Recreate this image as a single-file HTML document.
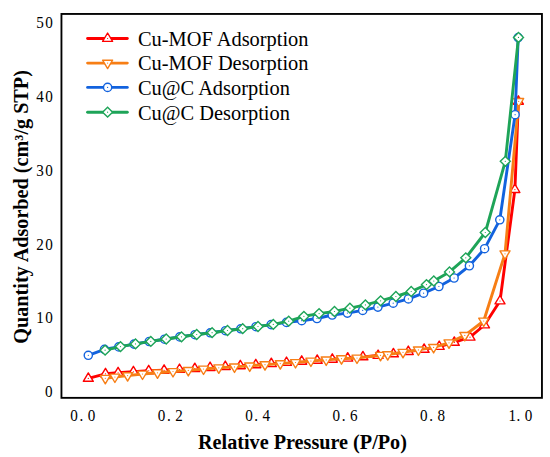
<!DOCTYPE html>
<html><head><meta charset="utf-8"><style>
html,body{margin:0;padding:0;background:#fff;}
svg{display:block;}
.lg{font-family:"Liberation Serif",serif;font-size:20.4px;fill:#000;}
.tk{font-family:"Liberation Serif",serif;font-size:17.6px;fill:#000;}
.ti{font-family:"Liberation Serif",serif;font-size:20.2px;font-weight:bold;fill:#000;}
</style></head><body>
<svg width="550" height="457" viewBox="0 0 550 457">
<rect x="61.45" y="13.95" width="480.5" height="383.9" fill="none" stroke="#000" stroke-width="1.85"/>
<polyline points="88.3,378.4 105.5,373.8 118.1,372.8 133.4,371.8 148.7,370.8 164.1,370.3 179.5,369.5 194.8,368.7 210.1,367.6 225.3,366.6 240.3,365.8 255.8,364.8 271.3,363.7 286.5,362.5 301.7,361.3 317.2,360.4 332.3,359.3 347.7,358.2 362.9,356.9 378.1,355.5 393.4,353.9 408.3,351.6 424.1,349.4 439.2,346.5 454.3,342.4 470.0,337.2 484.5,325.0 500.0,301.0 514.9,189.6 518.4,101.3" fill="none" stroke="#ff0000" stroke-width="2.9" stroke-linejoin="round" stroke-linecap="round"/><path d="M88.30,372.90L93.30,381.30L83.30,381.30Z" fill="#fff" stroke="#ff0000" stroke-width="1.4" stroke-linejoin="round"/><circle cx="88.30" cy="378.40" r="0.6" fill="#ff0000"/><path d="M105.50,368.30L110.50,376.70L100.50,376.70Z" fill="#fff" stroke="#ff0000" stroke-width="1.4" stroke-linejoin="round"/><circle cx="105.50" cy="373.80" r="0.6" fill="#ff0000"/><path d="M118.10,367.30L123.10,375.70L113.10,375.70Z" fill="#fff" stroke="#ff0000" stroke-width="1.4" stroke-linejoin="round"/><circle cx="118.10" cy="372.80" r="0.6" fill="#ff0000"/><path d="M133.40,366.30L138.40,374.70L128.40,374.70Z" fill="#fff" stroke="#ff0000" stroke-width="1.4" stroke-linejoin="round"/><circle cx="133.40" cy="371.80" r="0.6" fill="#ff0000"/><path d="M148.70,365.30L153.70,373.70L143.70,373.70Z" fill="#fff" stroke="#ff0000" stroke-width="1.4" stroke-linejoin="round"/><circle cx="148.70" cy="370.80" r="0.6" fill="#ff0000"/><path d="M164.10,364.80L169.10,373.20L159.10,373.20Z" fill="#fff" stroke="#ff0000" stroke-width="1.4" stroke-linejoin="round"/><circle cx="164.10" cy="370.30" r="0.6" fill="#ff0000"/><path d="M179.50,364.00L184.50,372.40L174.50,372.40Z" fill="#fff" stroke="#ff0000" stroke-width="1.4" stroke-linejoin="round"/><circle cx="179.50" cy="369.50" r="0.6" fill="#ff0000"/><path d="M194.80,363.20L199.80,371.60L189.80,371.60Z" fill="#fff" stroke="#ff0000" stroke-width="1.4" stroke-linejoin="round"/><circle cx="194.80" cy="368.70" r="0.6" fill="#ff0000"/><path d="M210.10,362.10L215.10,370.50L205.10,370.50Z" fill="#fff" stroke="#ff0000" stroke-width="1.4" stroke-linejoin="round"/><circle cx="210.10" cy="367.60" r="0.6" fill="#ff0000"/><path d="M225.30,361.10L230.30,369.50L220.30,369.50Z" fill="#fff" stroke="#ff0000" stroke-width="1.4" stroke-linejoin="round"/><circle cx="225.30" cy="366.60" r="0.6" fill="#ff0000"/><path d="M240.30,360.30L245.30,368.70L235.30,368.70Z" fill="#fff" stroke="#ff0000" stroke-width="1.4" stroke-linejoin="round"/><circle cx="240.30" cy="365.80" r="0.6" fill="#ff0000"/><path d="M255.80,359.30L260.80,367.70L250.80,367.70Z" fill="#fff" stroke="#ff0000" stroke-width="1.4" stroke-linejoin="round"/><circle cx="255.80" cy="364.80" r="0.6" fill="#ff0000"/><path d="M271.30,358.20L276.30,366.60L266.30,366.60Z" fill="#fff" stroke="#ff0000" stroke-width="1.4" stroke-linejoin="round"/><circle cx="271.30" cy="363.70" r="0.6" fill="#ff0000"/><path d="M286.50,357.00L291.50,365.40L281.50,365.40Z" fill="#fff" stroke="#ff0000" stroke-width="1.4" stroke-linejoin="round"/><circle cx="286.50" cy="362.50" r="0.6" fill="#ff0000"/><path d="M301.70,355.80L306.70,364.20L296.70,364.20Z" fill="#fff" stroke="#ff0000" stroke-width="1.4" stroke-linejoin="round"/><circle cx="301.70" cy="361.30" r="0.6" fill="#ff0000"/><path d="M317.20,354.90L322.20,363.30L312.20,363.30Z" fill="#fff" stroke="#ff0000" stroke-width="1.4" stroke-linejoin="round"/><circle cx="317.20" cy="360.40" r="0.6" fill="#ff0000"/><path d="M332.30,353.80L337.30,362.20L327.30,362.20Z" fill="#fff" stroke="#ff0000" stroke-width="1.4" stroke-linejoin="round"/><circle cx="332.30" cy="359.30" r="0.6" fill="#ff0000"/><path d="M347.70,352.70L352.70,361.10L342.70,361.10Z" fill="#fff" stroke="#ff0000" stroke-width="1.4" stroke-linejoin="round"/><circle cx="347.70" cy="358.20" r="0.6" fill="#ff0000"/><path d="M362.90,351.40L367.90,359.80L357.90,359.80Z" fill="#fff" stroke="#ff0000" stroke-width="1.4" stroke-linejoin="round"/><circle cx="362.90" cy="356.90" r="0.6" fill="#ff0000"/><path d="M378.10,350.00L383.10,358.40L373.10,358.40Z" fill="#fff" stroke="#ff0000" stroke-width="1.4" stroke-linejoin="round"/><circle cx="378.10" cy="355.50" r="0.6" fill="#ff0000"/><path d="M393.40,348.40L398.40,356.80L388.40,356.80Z" fill="#fff" stroke="#ff0000" stroke-width="1.4" stroke-linejoin="round"/><circle cx="393.40" cy="353.90" r="0.6" fill="#ff0000"/><path d="M408.30,346.10L413.30,354.50L403.30,354.50Z" fill="#fff" stroke="#ff0000" stroke-width="1.4" stroke-linejoin="round"/><circle cx="408.30" cy="351.60" r="0.6" fill="#ff0000"/><path d="M424.10,343.90L429.10,352.30L419.10,352.30Z" fill="#fff" stroke="#ff0000" stroke-width="1.4" stroke-linejoin="round"/><circle cx="424.10" cy="349.40" r="0.6" fill="#ff0000"/><path d="M439.20,341.00L444.20,349.40L434.20,349.40Z" fill="#fff" stroke="#ff0000" stroke-width="1.4" stroke-linejoin="round"/><circle cx="439.20" cy="346.50" r="0.6" fill="#ff0000"/><path d="M454.30,336.90L459.30,345.30L449.30,345.30Z" fill="#fff" stroke="#ff0000" stroke-width="1.4" stroke-linejoin="round"/><circle cx="454.30" cy="342.40" r="0.6" fill="#ff0000"/><path d="M470.00,331.70L475.00,340.10L465.00,340.10Z" fill="#fff" stroke="#ff0000" stroke-width="1.4" stroke-linejoin="round"/><circle cx="470.00" cy="337.20" r="0.6" fill="#ff0000"/><path d="M484.50,319.50L489.50,327.90L479.50,327.90Z" fill="#fff" stroke="#ff0000" stroke-width="1.4" stroke-linejoin="round"/><circle cx="484.50" cy="325.00" r="0.6" fill="#ff0000"/><path d="M500.00,295.50L505.00,303.90L495.00,303.90Z" fill="#fff" stroke="#ff0000" stroke-width="1.4" stroke-linejoin="round"/><circle cx="500.00" cy="301.00" r="0.6" fill="#ff0000"/><path d="M514.90,184.10L519.90,192.50L509.90,192.50Z" fill="#fff" stroke="#ff0000" stroke-width="1.4" stroke-linejoin="round"/><circle cx="514.90" cy="189.60" r="0.6" fill="#ff0000"/><path d="M518.40,95.80L523.40,104.20L513.40,104.20Z" fill="#fff" stroke="#ff0000" stroke-width="1.4" stroke-linejoin="round"/><circle cx="518.40" cy="101.30" r="0.6" fill="#ff0000"/>
<polyline points="105.3,378.3 114.9,377.0 127.6,375.6 142.5,374.0 157.5,372.8 173.0,371.5 188.3,370.4 203.5,369.0 218.8,367.8 234.5,366.9 249.7,365.9 265.0,364.7 280.3,363.6 295.5,362.5 310.9,361.0 326.2,359.9 341.5,358.7 357.0,358.0 380.5,355.3 387.7,354.6 403.0,352.3 418.4,349.9 433.6,347.4 449.0,342.8 464.8,335.4 483.7,321.0 505.0,253.8 518.7,101.4" fill="none" stroke="#f77e15" stroke-width="2.9" stroke-linejoin="round" stroke-linecap="round"/><path d="M105.30,383.80L110.30,375.40L100.30,375.40Z" fill="#fff" stroke="#f77e15" stroke-width="1.4" stroke-linejoin="round"/><circle cx="105.30" cy="378.30" r="0.6" fill="#f77e15"/><path d="M114.90,382.50L119.90,374.10L109.90,374.10Z" fill="#fff" stroke="#f77e15" stroke-width="1.4" stroke-linejoin="round"/><circle cx="114.90" cy="377.00" r="0.6" fill="#f77e15"/><path d="M127.60,381.10L132.60,372.70L122.60,372.70Z" fill="#fff" stroke="#f77e15" stroke-width="1.4" stroke-linejoin="round"/><circle cx="127.60" cy="375.60" r="0.6" fill="#f77e15"/><path d="M142.50,379.50L147.50,371.10L137.50,371.10Z" fill="#fff" stroke="#f77e15" stroke-width="1.4" stroke-linejoin="round"/><circle cx="142.50" cy="374.00" r="0.6" fill="#f77e15"/><path d="M157.50,378.30L162.50,369.90L152.50,369.90Z" fill="#fff" stroke="#f77e15" stroke-width="1.4" stroke-linejoin="round"/><circle cx="157.50" cy="372.80" r="0.6" fill="#f77e15"/><path d="M173.00,377.00L178.00,368.60L168.00,368.60Z" fill="#fff" stroke="#f77e15" stroke-width="1.4" stroke-linejoin="round"/><circle cx="173.00" cy="371.50" r="0.6" fill="#f77e15"/><path d="M188.30,375.90L193.30,367.50L183.30,367.50Z" fill="#fff" stroke="#f77e15" stroke-width="1.4" stroke-linejoin="round"/><circle cx="188.30" cy="370.40" r="0.6" fill="#f77e15"/><path d="M203.50,374.50L208.50,366.10L198.50,366.10Z" fill="#fff" stroke="#f77e15" stroke-width="1.4" stroke-linejoin="round"/><circle cx="203.50" cy="369.00" r="0.6" fill="#f77e15"/><path d="M218.80,373.30L223.80,364.90L213.80,364.90Z" fill="#fff" stroke="#f77e15" stroke-width="1.4" stroke-linejoin="round"/><circle cx="218.80" cy="367.80" r="0.6" fill="#f77e15"/><path d="M234.50,372.40L239.50,364.00L229.50,364.00Z" fill="#fff" stroke="#f77e15" stroke-width="1.4" stroke-linejoin="round"/><circle cx="234.50" cy="366.90" r="0.6" fill="#f77e15"/><path d="M249.70,371.40L254.70,363.00L244.70,363.00Z" fill="#fff" stroke="#f77e15" stroke-width="1.4" stroke-linejoin="round"/><circle cx="249.70" cy="365.90" r="0.6" fill="#f77e15"/><path d="M265.00,370.20L270.00,361.80L260.00,361.80Z" fill="#fff" stroke="#f77e15" stroke-width="1.4" stroke-linejoin="round"/><circle cx="265.00" cy="364.70" r="0.6" fill="#f77e15"/><path d="M280.30,369.10L285.30,360.70L275.30,360.70Z" fill="#fff" stroke="#f77e15" stroke-width="1.4" stroke-linejoin="round"/><circle cx="280.30" cy="363.60" r="0.6" fill="#f77e15"/><path d="M295.50,368.00L300.50,359.60L290.50,359.60Z" fill="#fff" stroke="#f77e15" stroke-width="1.4" stroke-linejoin="round"/><circle cx="295.50" cy="362.50" r="0.6" fill="#f77e15"/><path d="M310.90,366.50L315.90,358.10L305.90,358.10Z" fill="#fff" stroke="#f77e15" stroke-width="1.4" stroke-linejoin="round"/><circle cx="310.90" cy="361.00" r="0.6" fill="#f77e15"/><path d="M326.20,365.40L331.20,357.00L321.20,357.00Z" fill="#fff" stroke="#f77e15" stroke-width="1.4" stroke-linejoin="round"/><circle cx="326.20" cy="359.90" r="0.6" fill="#f77e15"/><path d="M341.50,364.20L346.50,355.80L336.50,355.80Z" fill="#fff" stroke="#f77e15" stroke-width="1.4" stroke-linejoin="round"/><circle cx="341.50" cy="358.70" r="0.6" fill="#f77e15"/><path d="M357.00,363.50L362.00,355.10L352.00,355.10Z" fill="#fff" stroke="#f77e15" stroke-width="1.4" stroke-linejoin="round"/><circle cx="357.00" cy="358.00" r="0.6" fill="#f77e15"/><path d="M380.50,360.80L385.50,352.40L375.50,352.40Z" fill="#fff" stroke="#f77e15" stroke-width="1.4" stroke-linejoin="round"/><circle cx="380.50" cy="355.30" r="0.6" fill="#f77e15"/><path d="M387.70,360.10L392.70,351.70L382.70,351.70Z" fill="#fff" stroke="#f77e15" stroke-width="1.4" stroke-linejoin="round"/><circle cx="387.70" cy="354.60" r="0.6" fill="#f77e15"/><path d="M403.00,357.80L408.00,349.40L398.00,349.40Z" fill="#fff" stroke="#f77e15" stroke-width="1.4" stroke-linejoin="round"/><circle cx="403.00" cy="352.30" r="0.6" fill="#f77e15"/><path d="M418.40,355.40L423.40,347.00L413.40,347.00Z" fill="#fff" stroke="#f77e15" stroke-width="1.4" stroke-linejoin="round"/><circle cx="418.40" cy="349.90" r="0.6" fill="#f77e15"/><path d="M433.60,352.90L438.60,344.50L428.60,344.50Z" fill="#fff" stroke="#f77e15" stroke-width="1.4" stroke-linejoin="round"/><circle cx="433.60" cy="347.40" r="0.6" fill="#f77e15"/><path d="M449.00,348.30L454.00,339.90L444.00,339.90Z" fill="#fff" stroke="#f77e15" stroke-width="1.4" stroke-linejoin="round"/><circle cx="449.00" cy="342.80" r="0.6" fill="#f77e15"/><path d="M464.80,340.90L469.80,332.50L459.80,332.50Z" fill="#fff" stroke="#f77e15" stroke-width="1.4" stroke-linejoin="round"/><circle cx="464.80" cy="335.40" r="0.6" fill="#f77e15"/><path d="M483.70,326.50L488.70,318.10L478.70,318.10Z" fill="#fff" stroke="#f77e15" stroke-width="1.4" stroke-linejoin="round"/><circle cx="483.70" cy="321.00" r="0.6" fill="#f77e15"/><path d="M505.00,259.30L510.00,250.90L500.00,250.90Z" fill="#fff" stroke="#f77e15" stroke-width="1.4" stroke-linejoin="round"/><circle cx="505.00" cy="253.80" r="0.6" fill="#f77e15"/><path d="M518.70,106.90L523.70,98.50L513.70,98.50Z" fill="#fff" stroke="#f77e15" stroke-width="1.4" stroke-linejoin="round"/><circle cx="518.70" cy="101.40" r="0.6" fill="#f77e15"/>
<polyline points="88.3,355.3 104.5,349.3 118.8,346.9 134.1,344.1 149.3,341.5 164.6,339.2 179.8,336.9 195.0,334.7 210.3,332.8 225.5,330.7 240.8,328.8 256.0,326.7 271.2,324.6 286.5,322.4 301.7,320.7 317.0,318.5 332.2,315.0 347.4,313.1 362.7,310.4 377.9,307.1 393.2,303.2 408.4,298.9 423.6,293.2 438.9,286.5 454.1,278.0 469.4,265.8 484.6,248.7 499.8,219.8 515.1,114.7 518.2,37.6" fill="none" stroke="#1262de" stroke-width="2.9" stroke-linejoin="round" stroke-linecap="round"/><circle cx="88.30" cy="355.30" r="4.1" fill="#fff" stroke="#1262de" stroke-width="1.4"/><circle cx="88.30" cy="355.30" r="0.6" fill="#1262de"/><circle cx="104.50" cy="349.30" r="4.1" fill="#fff" stroke="#1262de" stroke-width="1.4"/><circle cx="104.50" cy="349.30" r="0.6" fill="#1262de"/><circle cx="118.80" cy="346.90" r="4.1" fill="#fff" stroke="#1262de" stroke-width="1.4"/><circle cx="118.80" cy="346.90" r="0.6" fill="#1262de"/><circle cx="134.10" cy="344.10" r="4.1" fill="#fff" stroke="#1262de" stroke-width="1.4"/><circle cx="134.10" cy="344.10" r="0.6" fill="#1262de"/><circle cx="149.30" cy="341.50" r="4.1" fill="#fff" stroke="#1262de" stroke-width="1.4"/><circle cx="149.30" cy="341.50" r="0.6" fill="#1262de"/><circle cx="164.60" cy="339.20" r="4.1" fill="#fff" stroke="#1262de" stroke-width="1.4"/><circle cx="164.60" cy="339.20" r="0.6" fill="#1262de"/><circle cx="179.80" cy="336.90" r="4.1" fill="#fff" stroke="#1262de" stroke-width="1.4"/><circle cx="179.80" cy="336.90" r="0.6" fill="#1262de"/><circle cx="195.00" cy="334.70" r="4.1" fill="#fff" stroke="#1262de" stroke-width="1.4"/><circle cx="195.00" cy="334.70" r="0.6" fill="#1262de"/><circle cx="210.30" cy="332.80" r="4.1" fill="#fff" stroke="#1262de" stroke-width="1.4"/><circle cx="210.30" cy="332.80" r="0.6" fill="#1262de"/><circle cx="225.50" cy="330.70" r="4.1" fill="#fff" stroke="#1262de" stroke-width="1.4"/><circle cx="225.50" cy="330.70" r="0.6" fill="#1262de"/><circle cx="240.80" cy="328.80" r="4.1" fill="#fff" stroke="#1262de" stroke-width="1.4"/><circle cx="240.80" cy="328.80" r="0.6" fill="#1262de"/><circle cx="256.00" cy="326.70" r="4.1" fill="#fff" stroke="#1262de" stroke-width="1.4"/><circle cx="256.00" cy="326.70" r="0.6" fill="#1262de"/><circle cx="271.20" cy="324.60" r="4.1" fill="#fff" stroke="#1262de" stroke-width="1.4"/><circle cx="271.20" cy="324.60" r="0.6" fill="#1262de"/><circle cx="286.50" cy="322.40" r="4.1" fill="#fff" stroke="#1262de" stroke-width="1.4"/><circle cx="286.50" cy="322.40" r="0.6" fill="#1262de"/><circle cx="301.70" cy="320.70" r="4.1" fill="#fff" stroke="#1262de" stroke-width="1.4"/><circle cx="301.70" cy="320.70" r="0.6" fill="#1262de"/><circle cx="317.00" cy="318.50" r="4.1" fill="#fff" stroke="#1262de" stroke-width="1.4"/><circle cx="317.00" cy="318.50" r="0.6" fill="#1262de"/><circle cx="332.20" cy="315.00" r="4.1" fill="#fff" stroke="#1262de" stroke-width="1.4"/><circle cx="332.20" cy="315.00" r="0.6" fill="#1262de"/><circle cx="347.40" cy="313.10" r="4.1" fill="#fff" stroke="#1262de" stroke-width="1.4"/><circle cx="347.40" cy="313.10" r="0.6" fill="#1262de"/><circle cx="362.70" cy="310.40" r="4.1" fill="#fff" stroke="#1262de" stroke-width="1.4"/><circle cx="362.70" cy="310.40" r="0.6" fill="#1262de"/><circle cx="377.90" cy="307.10" r="4.1" fill="#fff" stroke="#1262de" stroke-width="1.4"/><circle cx="377.90" cy="307.10" r="0.6" fill="#1262de"/><circle cx="393.20" cy="303.20" r="4.1" fill="#fff" stroke="#1262de" stroke-width="1.4"/><circle cx="393.20" cy="303.20" r="0.6" fill="#1262de"/><circle cx="408.40" cy="298.90" r="4.1" fill="#fff" stroke="#1262de" stroke-width="1.4"/><circle cx="408.40" cy="298.90" r="0.6" fill="#1262de"/><circle cx="423.60" cy="293.20" r="4.1" fill="#fff" stroke="#1262de" stroke-width="1.4"/><circle cx="423.60" cy="293.20" r="0.6" fill="#1262de"/><circle cx="438.90" cy="286.50" r="4.1" fill="#fff" stroke="#1262de" stroke-width="1.4"/><circle cx="438.90" cy="286.50" r="0.6" fill="#1262de"/><circle cx="454.10" cy="278.00" r="4.1" fill="#fff" stroke="#1262de" stroke-width="1.4"/><circle cx="454.10" cy="278.00" r="0.6" fill="#1262de"/><circle cx="469.40" cy="265.80" r="4.1" fill="#fff" stroke="#1262de" stroke-width="1.4"/><circle cx="469.40" cy="265.80" r="0.6" fill="#1262de"/><circle cx="484.60" cy="248.70" r="4.1" fill="#fff" stroke="#1262de" stroke-width="1.4"/><circle cx="484.60" cy="248.70" r="0.6" fill="#1262de"/><circle cx="499.80" cy="219.80" r="4.1" fill="#fff" stroke="#1262de" stroke-width="1.4"/><circle cx="499.80" cy="219.80" r="0.6" fill="#1262de"/><circle cx="515.10" cy="114.70" r="4.1" fill="#fff" stroke="#1262de" stroke-width="1.4"/><circle cx="515.10" cy="114.70" r="0.6" fill="#1262de"/><circle cx="518.20" cy="37.60" r="4.1" fill="#fff" stroke="#1262de" stroke-width="1.4"/><circle cx="518.20" cy="37.60" r="0.6" fill="#1262de"/>
<polyline points="105.1,350.2 120.5,346.6 135.5,343.9 150.8,341.4 166.2,339.0 181.5,336.8 196.7,334.5 212.1,332.7 227.5,330.5 242.7,328.7 258.0,326.5 273.3,324.4 288.7,321.2 303.9,316.3 319.1,313.6 334.5,311.5 349.9,308.2 365.4,304.9 380.6,300.8 395.9,296.5 411.2,291.5 426.5,284.6 433.8,281.0 449.5,271.9 465.8,257.8 485.3,232.5 505.3,161.3 518.5,37.4" fill="none" stroke="#1ea458" stroke-width="2.9" stroke-linejoin="round" stroke-linecap="round"/><path d="M105.10,345.30L110.10,350.20L105.10,355.10L100.10,350.20Z" fill="#fff" stroke="#1ea458" stroke-width="1.4"/><circle cx="105.10" cy="350.20" r="0.6" fill="#1ea458"/><path d="M120.50,341.70L125.50,346.60L120.50,351.50L115.50,346.60Z" fill="#fff" stroke="#1ea458" stroke-width="1.4"/><circle cx="120.50" cy="346.60" r="0.6" fill="#1ea458"/><path d="M135.50,339.00L140.50,343.90L135.50,348.80L130.50,343.90Z" fill="#fff" stroke="#1ea458" stroke-width="1.4"/><circle cx="135.50" cy="343.90" r="0.6" fill="#1ea458"/><path d="M150.80,336.50L155.80,341.40L150.80,346.30L145.80,341.40Z" fill="#fff" stroke="#1ea458" stroke-width="1.4"/><circle cx="150.80" cy="341.40" r="0.6" fill="#1ea458"/><path d="M166.20,334.10L171.20,339.00L166.20,343.90L161.20,339.00Z" fill="#fff" stroke="#1ea458" stroke-width="1.4"/><circle cx="166.20" cy="339.00" r="0.6" fill="#1ea458"/><path d="M181.50,331.90L186.50,336.80L181.50,341.70L176.50,336.80Z" fill="#fff" stroke="#1ea458" stroke-width="1.4"/><circle cx="181.50" cy="336.80" r="0.6" fill="#1ea458"/><path d="M196.70,329.60L201.70,334.50L196.70,339.40L191.70,334.50Z" fill="#fff" stroke="#1ea458" stroke-width="1.4"/><circle cx="196.70" cy="334.50" r="0.6" fill="#1ea458"/><path d="M212.10,327.80L217.10,332.70L212.10,337.60L207.10,332.70Z" fill="#fff" stroke="#1ea458" stroke-width="1.4"/><circle cx="212.10" cy="332.70" r="0.6" fill="#1ea458"/><path d="M227.50,325.60L232.50,330.50L227.50,335.40L222.50,330.50Z" fill="#fff" stroke="#1ea458" stroke-width="1.4"/><circle cx="227.50" cy="330.50" r="0.6" fill="#1ea458"/><path d="M242.70,323.80L247.70,328.70L242.70,333.60L237.70,328.70Z" fill="#fff" stroke="#1ea458" stroke-width="1.4"/><circle cx="242.70" cy="328.70" r="0.6" fill="#1ea458"/><path d="M258.00,321.60L263.00,326.50L258.00,331.40L253.00,326.50Z" fill="#fff" stroke="#1ea458" stroke-width="1.4"/><circle cx="258.00" cy="326.50" r="0.6" fill="#1ea458"/><path d="M273.30,319.50L278.30,324.40L273.30,329.30L268.30,324.40Z" fill="#fff" stroke="#1ea458" stroke-width="1.4"/><circle cx="273.30" cy="324.40" r="0.6" fill="#1ea458"/><path d="M288.70,316.30L293.70,321.20L288.70,326.10L283.70,321.20Z" fill="#fff" stroke="#1ea458" stroke-width="1.4"/><circle cx="288.70" cy="321.20" r="0.6" fill="#1ea458"/><path d="M303.90,311.40L308.90,316.30L303.90,321.20L298.90,316.30Z" fill="#fff" stroke="#1ea458" stroke-width="1.4"/><circle cx="303.90" cy="316.30" r="0.6" fill="#1ea458"/><path d="M319.10,308.70L324.10,313.60L319.10,318.50L314.10,313.60Z" fill="#fff" stroke="#1ea458" stroke-width="1.4"/><circle cx="319.10" cy="313.60" r="0.6" fill="#1ea458"/><path d="M334.50,306.60L339.50,311.50L334.50,316.40L329.50,311.50Z" fill="#fff" stroke="#1ea458" stroke-width="1.4"/><circle cx="334.50" cy="311.50" r="0.6" fill="#1ea458"/><path d="M349.90,303.30L354.90,308.20L349.90,313.10L344.90,308.20Z" fill="#fff" stroke="#1ea458" stroke-width="1.4"/><circle cx="349.90" cy="308.20" r="0.6" fill="#1ea458"/><path d="M365.40,300.00L370.40,304.90L365.40,309.80L360.40,304.90Z" fill="#fff" stroke="#1ea458" stroke-width="1.4"/><circle cx="365.40" cy="304.90" r="0.6" fill="#1ea458"/><path d="M380.60,295.90L385.60,300.80L380.60,305.70L375.60,300.80Z" fill="#fff" stroke="#1ea458" stroke-width="1.4"/><circle cx="380.60" cy="300.80" r="0.6" fill="#1ea458"/><path d="M395.90,291.60L400.90,296.50L395.90,301.40L390.90,296.50Z" fill="#fff" stroke="#1ea458" stroke-width="1.4"/><circle cx="395.90" cy="296.50" r="0.6" fill="#1ea458"/><path d="M411.20,286.60L416.20,291.50L411.20,296.40L406.20,291.50Z" fill="#fff" stroke="#1ea458" stroke-width="1.4"/><circle cx="411.20" cy="291.50" r="0.6" fill="#1ea458"/><path d="M426.50,279.70L431.50,284.60L426.50,289.50L421.50,284.60Z" fill="#fff" stroke="#1ea458" stroke-width="1.4"/><circle cx="426.50" cy="284.60" r="0.6" fill="#1ea458"/><path d="M433.80,276.10L438.80,281.00L433.80,285.90L428.80,281.00Z" fill="#fff" stroke="#1ea458" stroke-width="1.4"/><circle cx="433.80" cy="281.00" r="0.6" fill="#1ea458"/><path d="M449.50,267.00L454.50,271.90L449.50,276.80L444.50,271.90Z" fill="#fff" stroke="#1ea458" stroke-width="1.4"/><circle cx="449.50" cy="271.90" r="0.6" fill="#1ea458"/><path d="M465.80,252.90L470.80,257.80L465.80,262.70L460.80,257.80Z" fill="#fff" stroke="#1ea458" stroke-width="1.4"/><circle cx="465.80" cy="257.80" r="0.6" fill="#1ea458"/><path d="M485.30,227.60L490.30,232.50L485.30,237.40L480.30,232.50Z" fill="#fff" stroke="#1ea458" stroke-width="1.4"/><circle cx="485.30" cy="232.50" r="0.6" fill="#1ea458"/><path d="M505.30,156.40L510.30,161.30L505.30,166.20L500.30,161.30Z" fill="#fff" stroke="#1ea458" stroke-width="1.4"/><circle cx="505.30" cy="161.30" r="0.6" fill="#1ea458"/><path d="M518.50,32.50L523.50,37.40L518.50,42.30L513.50,37.40Z" fill="#fff" stroke="#1ea458" stroke-width="1.4"/><circle cx="518.50" cy="37.40" r="0.6" fill="#1ea458"/>
<line x1="87.6" y1="38.5" x2="127.3" y2="38.5" stroke="#ff0000" stroke-width="2.9" stroke-linecap="round"/>
<path d="M107.60,33.00L112.60,41.40L102.60,41.40Z" fill="#fff" stroke="#ff0000" stroke-width="1.4" stroke-linejoin="round"/><circle cx="107.60" cy="38.50" r="0.6" fill="#ff0000"/>
<text x="138" y="45.8" class="lg">Cu-MOF Adsorption</text>
<line x1="87.6" y1="63.1" x2="127.3" y2="63.1" stroke="#f77e15" stroke-width="2.9" stroke-linecap="round"/>
<path d="M107.60,68.60L112.60,60.20L102.60,60.20Z" fill="#fff" stroke="#f77e15" stroke-width="1.4" stroke-linejoin="round"/><circle cx="107.60" cy="63.10" r="0.6" fill="#f77e15"/>
<text x="138" y="70.4" class="lg">Cu-MOF Desorption</text>
<line x1="87.6" y1="87.4" x2="127.3" y2="87.4" stroke="#1262de" stroke-width="2.9" stroke-linecap="round"/>
<circle cx="107.60" cy="87.40" r="4.1" fill="#fff" stroke="#1262de" stroke-width="1.4"/><circle cx="107.60" cy="87.40" r="0.6" fill="#1262de"/>
<text x="138" y="94.7" class="lg">Cu@C Adsorption</text>
<line x1="87.6" y1="112.2" x2="127.3" y2="112.2" stroke="#1ea458" stroke-width="2.9" stroke-linecap="round"/>
<path d="M107.60,107.30L112.60,112.20L107.60,117.10L102.60,112.20Z" fill="#fff" stroke="#1ea458" stroke-width="1.4"/><circle cx="107.60" cy="112.20" r="0.6" fill="#1ea458"/>
<text x="138" y="119.5" class="lg">Cu@C Desorption</text>
<text transform="translate(40.10,27.90) scale(0.86,1)" text-anchor="middle" class="tk">5</text>
<text transform="translate(49.10,27.90) scale(0.86,1)" text-anchor="middle" class="tk">0</text>
<text transform="translate(40.10,101.78) scale(0.86,1)" text-anchor="middle" class="tk">4</text>
<text transform="translate(49.10,101.78) scale(0.86,1)" text-anchor="middle" class="tk">0</text>
<text transform="translate(40.10,175.66) scale(0.86,1)" text-anchor="middle" class="tk">3</text>
<text transform="translate(49.10,175.66) scale(0.86,1)" text-anchor="middle" class="tk">0</text>
<text transform="translate(40.10,249.54) scale(0.86,1)" text-anchor="middle" class="tk">2</text>
<text transform="translate(49.10,249.54) scale(0.86,1)" text-anchor="middle" class="tk">0</text>
<text transform="translate(40.10,323.42) scale(0.86,1)" text-anchor="middle" class="tk">1</text>
<text transform="translate(49.10,323.42) scale(0.86,1)" text-anchor="middle" class="tk">0</text>
<text transform="translate(48.80,397.30) scale(0.86,1)" text-anchor="middle" class="tk">0</text>
<text transform="translate(74.10,420.60) scale(0.86,1)" text-anchor="middle" class="tk">0</text>
<text transform="translate(81.40,420.60) scale(0.86,1)" text-anchor="middle" class="tk">.</text>
<text transform="translate(91.50,420.60) scale(0.86,1)" text-anchor="middle" class="tk">0</text>
<text transform="translate(161.52,420.60) scale(0.86,1)" text-anchor="middle" class="tk">0</text>
<text transform="translate(168.82,420.60) scale(0.86,1)" text-anchor="middle" class="tk">.</text>
<text transform="translate(178.92,420.60) scale(0.86,1)" text-anchor="middle" class="tk">2</text>
<text transform="translate(248.94,420.60) scale(0.86,1)" text-anchor="middle" class="tk">0</text>
<text transform="translate(256.24,420.60) scale(0.86,1)" text-anchor="middle" class="tk">.</text>
<text transform="translate(266.34,420.60) scale(0.86,1)" text-anchor="middle" class="tk">4</text>
<text transform="translate(336.36,420.60) scale(0.86,1)" text-anchor="middle" class="tk">0</text>
<text transform="translate(343.66,420.60) scale(0.86,1)" text-anchor="middle" class="tk">.</text>
<text transform="translate(353.76,420.60) scale(0.86,1)" text-anchor="middle" class="tk">6</text>
<text transform="translate(423.78,420.60) scale(0.86,1)" text-anchor="middle" class="tk">0</text>
<text transform="translate(431.08,420.60) scale(0.86,1)" text-anchor="middle" class="tk">.</text>
<text transform="translate(441.18,420.60) scale(0.86,1)" text-anchor="middle" class="tk">8</text>
<text transform="translate(512.20,420.60) scale(0.86,1)" text-anchor="middle" class="tk">1</text>
<text transform="translate(518.50,420.60) scale(0.86,1)" text-anchor="middle" class="tk">.</text>
<text transform="translate(528.60,420.60) scale(0.86,1)" text-anchor="middle" class="tk">0</text>
<text x="198" y="448.6" class="ti">Relative Pressure (P/Po)</text>
<text transform="translate(28.3,206.9) rotate(-90)" text-anchor="middle" class="ti">Quantity Adsorbed (cm³/g STP)</text>
</svg>
</body></html>
